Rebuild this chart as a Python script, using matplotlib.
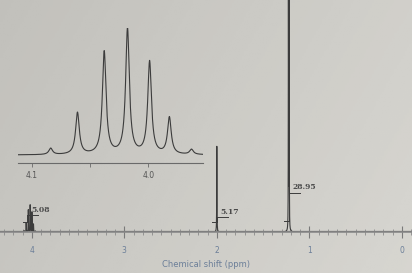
import numpy as np
import matplotlib
matplotlib.use("Agg")
import matplotlib.pyplot as plt

# Peak list (ppm, relative height)
septet_ppm = [4.084, 4.061, 4.038, 4.018, 3.999, 3.982, 3.963]
septet_height = [0.05, 0.33, 0.81, 0.99, 0.73, 0.29, 0.04]
singlet_ppm = [2.00]
singlet_height = [0.37]
doublet_ppm = [1.218, 1.226]
doublet_height = [1.2, 1.2]

integral_labels = ["5.08", "5.17", "28.95"]
integral_ppm = [4.05, 2.00, 1.222]
integral_low = [0.045, 0.045, 0.047]
integral_high = [0.072, 0.066, 0.170]

main_ticks = [4, 3, 2, 1, 0]
inset_ticks = [4.1, 4.0]


def spectrum(x, centers, heights, gamma):
    y = np.zeros_like(x)
    for c, h in zip(centers, heights):
        y += h * gamma**2 / ((x - c) ** 2 + gamma**2)
    return y


line_col = "#3c3c3c"
text_col = "#6c7f99"

fig = plt.figure(figsize=(4.12, 2.73), dpi=100)
fig.patch.set_facecolor("#c6c5bf")

# soft paper gradient
bg = fig.add_axes([0, 0, 1, 1], zorder=-5)
gx = np.linspace(0, 1, 200)
gy = np.linspace(0, 1, 120)
GX, GY = np.meshgrid(gx, gy)
shade = 0.74 + 0.08 * GX + 0.03 * GY
bg.imshow(shade, cmap="gray", vmin=0, vmax=1, aspect="auto", extent=[0, 1, 0, 1])
bg.imshow(np.ones((2, 2, 3)) * np.array([0.82, 0.80, 0.72]), aspect="auto",
          extent=[0, 1, 0, 1], alpha=0.25)
bg.axis("off")

# main spectrum
ax = fig.add_axes([0, 0.15, 1, 0.85])
ax.patch.set_alpha(0)
x = np.linspace(4.40, -0.15, 30000)
septet_main = [h * 0.118 for h in septet_height]
y = spectrum(x, septet_ppm, septet_main, 0.0015)
y += spectrum(x, singlet_ppm, singlet_height, 0.0015)
y += spectrum(x, doublet_ppm, doublet_height, 0.0012)
ax.plot(x, y, color=line_col, lw=0.8)
ax.axhline(0, color="#6a6a6a", lw=1.6, zorder=1)
ax.set_xlim(4.344, -0.110)
ax.set_ylim(0.0, 1.0)

# integration steps and values
for lab, p, lo, hi in zip(integral_labels, integral_ppm, integral_low, integral_high):
    ax.plot([p + 0.05, p], [lo, lo], color=line_col, lw=0.7)
    ax.plot([p, p], [lo, hi], color=line_col, lw=0.7)
    ax.plot([p, p - 0.12], [hi, hi], color=line_col, lw=0.7)
    ax.text(p - 0.04, hi + 0.005, lab, fontsize=5.5, family="DejaVu Serif",
            fontweight="bold", color="#4a4a4a", va="bottom", ha="left")

for s in ["top", "right", "left"]:
    ax.spines[s].set_visible(False)
ax.spines["bottom"].set_color("#8a8a8a")
ax.spines["bottom"].set_linewidth(1.2)
ax.set_yticks([])
ax.set_xticks(main_ticks)
ax.set_xticks(np.arange(-0.1, 4.31, 0.1), minor=True)
ax.tick_params(axis="x", which="major", direction="inout", length=8, width=0.8,
               color="#7a7a7a", labelsize=5.5, labelcolor=text_col, pad=6)
ax.tick_params(axis="x", which="minor", direction="inout", length=5, width=0.6,
               color="#8a8a8a")
ax.set_xticklabels([str(t) for t in main_ticks])
ax.set_xlabel("Chemical shift (ppm)", fontsize=6, color=text_col, labelpad=4)

# inset: expanded septet
axi = fig.add_axes([0.044, 0.403, 0.449, 0.494])
axi.patch.set_alpha(0)
xi = np.linspace(4.112, 3.953, 4000)
yi = spectrum(xi, septet_ppm, septet_height, 0.0019)
axi.plot(xi, yi, color=line_col, lw=0.8)
axi.set_xlim(4.112, 3.953)
axi.set_ylim(-0.063, 1.0)
for s in ["top", "right", "left"]:
    axi.spines[s].set_visible(False)
axi.spines["bottom"].set_color("#6a6a6a")
axi.spines["bottom"].set_linewidth(0.8)
axi.set_yticks([])
axi.set_xticks(inset_ticks)
axi.set_xticks([4.05], minor=True)
axi.tick_params(axis="x", which="both", direction="out", length=3, width=0.6,
                color="#6a6a6a", labelsize=5.5, labelcolor="#555555", pad=3)
axi.set_xticklabels([str(t) for t in inset_ticks])

fig.savefig("out.png", dpi=100, facecolor=fig.get_facecolor())
